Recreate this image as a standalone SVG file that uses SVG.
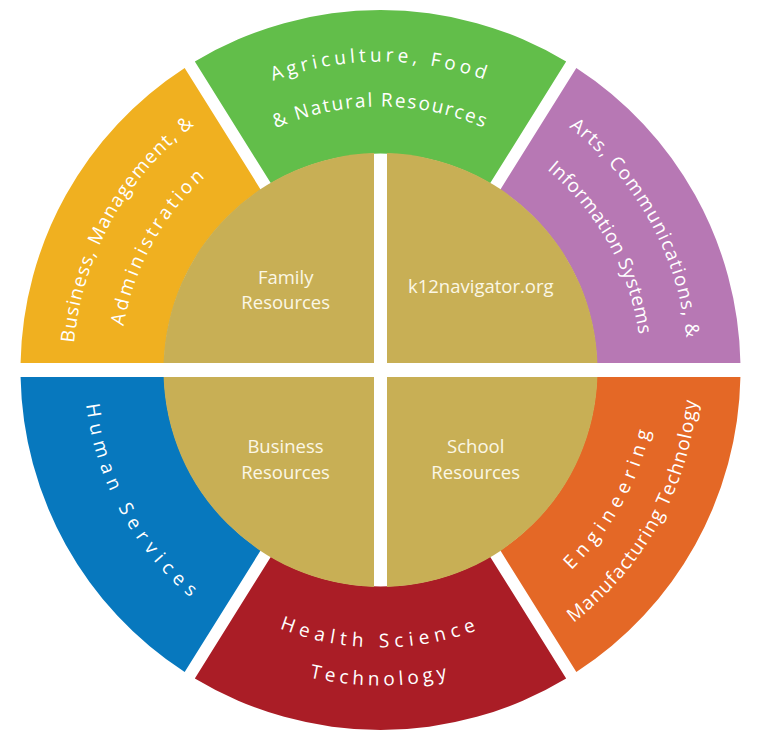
<svg xmlns="http://www.w3.org/2000/svg" width="768" height="740" viewBox="0 0 768 740">
<style>
.seg{stroke:none}
.lbl{font-family:"Open Sans","Noto Sans","DejaVu Sans",sans-serif;fill:#ffffff;font-size:19px;text-anchor:middle}
.ctr{font-family:"Open Sans","Noto Sans","DejaVu Sans",sans-serif;fill:#FBF7E6;font-size:18.5px;text-anchor:middle}
.gold{fill:#C8AF55}
</style>
<defs>
<path id="p-agri1" d="M 72,370 A 308.5 308.5 0 0 1 689,370"/>
<path id="p-agri2" d="M 117,370 A 263.5 263.5 0 0 1 644,370"/>
<path id="p-bus1" d="M 230.94,639.82 A 308.5 308.5 0 0 1 530.06,100.18"/>
<path id="p-bus2" d="M 253.72,598.71 A 261.5 261.5 0 0 1 507.28,141.29"/>
<path id="p-arts1" d="M 231.42,101.05 A 307.5 307.5 0 0 1 529.58,638.95"/>
<path id="p-arts2" d="M 253.72,141.29 A 261.5 261.5 0 0 1 507.28,598.71"/>
<path id="p-hlth1" d="M 103,370 A 277.5 277.5 0 0 0 658,370"/>
<path id="p-hlth2" d="M 65,370 A 315.5 315.5 0 0 0 696,370"/>
<path id="p-hum" d="M 236.51,110.24 A 297 297 0 0 0 524.49,629.76"/>
<path id="p-eng1" d="M 246.21,612.27 A 277 277 0 0 0 514.79,127.73"/>
<path id="p-eng2" d="M 226.33,648.13 A 318 318 0 0 0 534.67,91.87"/>
</defs>
<rect x="0" y="0" width="768" height="740" fill="#ffffff"/>

<g id="business-management">
<path class="seg" fill="#F0B020" d="M 20.57,363 A 360 360 0 0 1 184.67,67.92 L 260.73,189.65 A 216.5 216.5 0 0 0 164.11,363 Z"/>
<text class="lbl" letter-spacing="1.2"><textPath href="#p-bus1" startOffset="50%">Business, Management, &amp;</textPath></text>
<text class="lbl" letter-spacing="3.2"><textPath href="#p-bus2" startOffset="50%">Administration</textPath></text>
</g>

<g id="agriculture">
<path class="seg" fill="#62BE4A" d="M 194.84,61.57 A 360 360 0 0 1 566.16,61.57 L 490.10,183.29 A 216.5 216.5 0 0 0 270.90,183.29 Z"/>
<text class="lbl" letter-spacing="4"><textPath href="#p-agri1" startOffset="50%">Agriculture, Food</textPath></text>
<text class="lbl" letter-spacing="1.8"><textPath href="#p-agri2" startOffset="50%">&amp; Natural Resources</textPath></text>
</g>

<g id="arts-communications">
<path class="seg" fill="#B778B4" d="M 576.33,67.92 A 360 360 0 0 1 740.43,363 L 596.89,363 A 216.5 216.5 0 0 0 500.27,189.65 Z"/>
<text class="lbl" letter-spacing="1.3"><textPath href="#p-arts1" startOffset="50%">Arts, Communications, &amp;</textPath></text>
<text class="lbl" letter-spacing="0.55"><textPath href="#p-arts2" startOffset="50%">Information Systems</textPath></text>
</g>

<g id="engineering">
<path class="seg" fill="#E46826" d="M 740.43,377 A 360 360 0 0 1 576.33,672.08 L 500.27,550.35 A 216.5 216.5 0 0 0 596.89,377 Z"/>
<text class="lbl" letter-spacing="5.7"><textPath href="#p-eng1" startOffset="50%">Engineering</textPath></text>
<text class="lbl" letter-spacing="1.1"><textPath href="#p-eng2" startOffset="50%">Manufacturing Technology</textPath></text>
</g>

<g id="health-science">
<path class="seg" fill="#AA1D26" d="M 566.16,678.43 A 360 360 0 0 1 194.84,678.43 L 270.90,556.71 A 216.5 216.5 0 0 0 490.10,556.71 Z"/>
<text class="lbl" letter-spacing="5.5"><textPath href="#p-hlth1" startOffset="50%">Health Science</textPath></text>
<text class="lbl" letter-spacing="4.2"><textPath href="#p-hlth2" startOffset="50%">Technology</textPath></text>
</g>

<g id="human-services">
<path class="seg" fill="#0778BE" d="M 184.67,672.08 A 360 360 0 0 1 20.57,377 L 164.11,377 A 216.5 216.5 0 0 0 260.73,550.35 Z"/>
<text class="lbl" letter-spacing="6.3"><textPath href="#p-hum" startOffset="50%">Human Services</textPath></text>
</g>

<g id="family-resources">
<path class="gold" d="M 374,363 L 163.61,363 A 217 217 0 0 1 374,153.10 Z"/>
<text class="ctr" x="285.7" y="283.5">Family</text>
<text class="ctr" x="285.7" y="308.5">Resources</text>
</g>

<g id="k12navigator">
<path class="gold" d="M 387,363 L 387,153.10 A 217 217 0 0 1 597.39,363 Z"/>
<text class="ctr" x="480.8" y="292.7">k12navigator.org</text>
</g>

<g id="business-resources">
<path class="gold" d="M 374,377 L 374,586.90 A 217 217 0 0 1 163.61,377 Z"/>
<text class="ctr" x="285.5" y="453">Business</text>
<text class="ctr" x="285.5" y="478.5">Resources</text>
</g>

<g id="school-resources">
<path class="gold" d="M 387,377 L 597.39,377 A 217 217 0 0 1 387,586.90 Z"/>
<text class="ctr" x="475.7" y="453">School</text>
<text class="ctr" x="475.7" y="478.5">Resources</text>
</g>
</svg>
